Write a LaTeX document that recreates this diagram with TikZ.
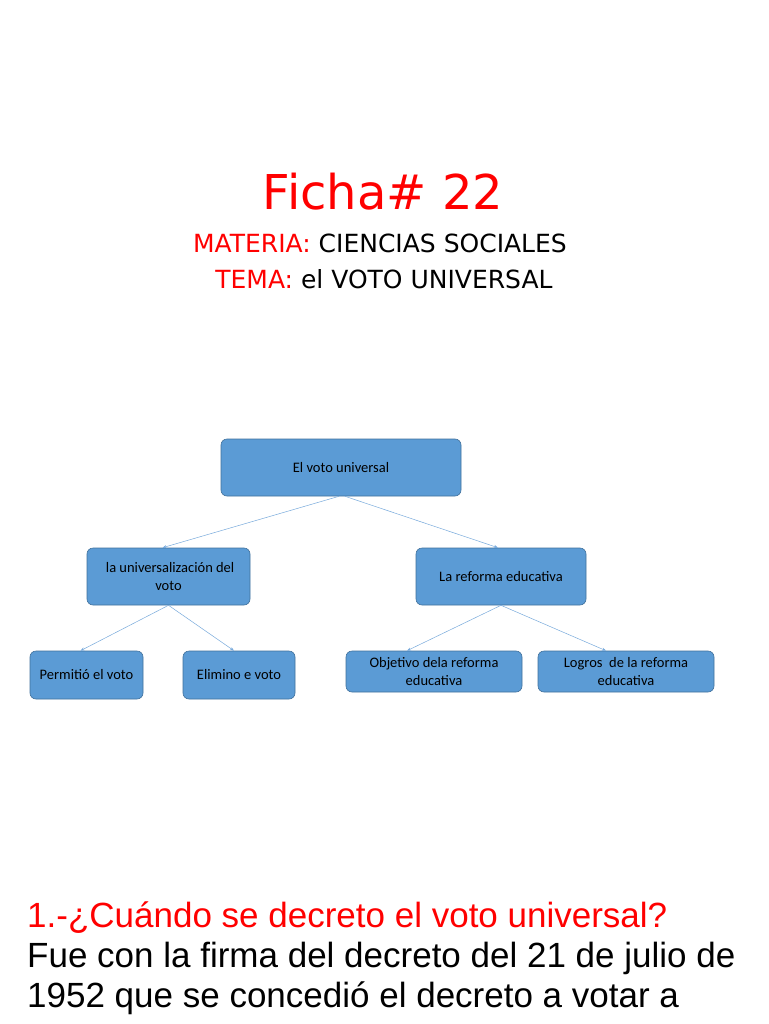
\documentclass[tikz,border=0pt]{standalone}
\usepackage{fontspec}
\setmainfont{DejaVu Sans}
\newfontfamily\boxfont{Carlito}
\newfontfamily\bodyfont{Liberation Sans}
\usetikzlibrary{arrows.meta}
\definecolor{boxblue}{RGB}{91,155,213}
\definecolor{boxedge}{RGB}{65,113,156}
\definecolor{linkblue}{RGB}{120,170,220}
\begin{document}
\begin{tikzpicture}[x=1pt,y=-1pt,
  box/.style={draw=boxedge,fill=boxblue,rounded corners=6pt,line width=0.6pt,align=center,font=\boxfont\fontsize{14.5}{17.5}\selectfont,inner sep=0pt},
  link/.style={draw=linkblue,line width=0.5pt,-{Stealth[length=4pt,width=3pt]}}]
\useasboundingbox (0,0) rectangle (768,1024);
\fill[white] (0,0) rectangle (768,1024);
\node[font=\fontsize{48}{56}\selectfont,text=red] (title) at (383,192) {Ficha\# 22};
\node[font=\fontsize{25}{30}\selectfont] (mat) at (380,243) {\textcolor{red}{MATERIA:} CIENCIAS SOCIALES};
\node[font=\fontsize{25}{30}\selectfont] (tema) at (384,279) {\textcolor{red}{TEMA:} el VOTO UNIVERSAL};
\node[box,minimum width=240pt,minimum height=57pt] (top) at (341,467.5) {El voto universal};
\node[box,minimum width=163pt,minimum height=57pt] (l1) at (168.5,576.5) {\ la universalización del\\voto};
\node[box,minimum width=170pt,minimum height=57pt] (r1) at (501,576.5) {La reforma educativa};
\node[box,minimum width=113pt,minimum height=48pt] (ll) at (86.5,675) {Permitió el voto};
\node[box,minimum width=112pt,minimum height=48pt] (lr) at (239,675) {Elimino e voto};
\node[box,minimum width=176pt,minimum height=41pt] (rl) at (434,671.5) {Objetivo dela reforma\\educativa};
\node[box,minimum width=176pt,minimum height=41pt] (rr) at (626,671.5) {Logros\ \ de la reforma\\educativa};
\draw[link] ([xshift=-2pt]top.south) -- ([xshift=-6pt]l1.north);
\draw[link] ([xshift=4pt]top.south) -- ([xshift=-3pt]r1.north);
\draw[link] (l1.south) -- ([xshift=-6pt]ll.north);
\draw[link] (l1.south) -- ([xshift=-5pt]lr.north);
\draw[link] (r1.south) -- ([xshift=-27pt]rl.north);
\draw[link] (r1.south) -- ([xshift=-20pt]rr.north);
\node[anchor=north west,align=left,inner sep=0pt,font=\bodyfont\fontsize{35}{40}\selectfont] (q) at (27,902)
 {\textcolor{red}{1.-¿Cuándo se decreto el voto universal?}\\Fue con la firma del decreto del 21 de julio de\\1952 que se concedió el decreto a votar a};
\end{tikzpicture}
\end{document}
